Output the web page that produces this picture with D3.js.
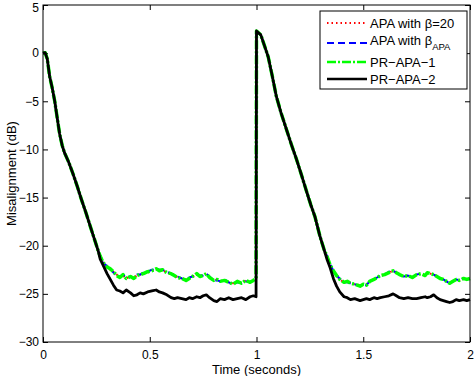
<!DOCTYPE html>
<html>
<head>
<meta charset="utf-8">
<script src="https://cdn.jsdelivr.net/npm/d3@7"></script>
<style>
  body { margin: 0; background: #fff; }
  svg { font-family: "Liberation Sans", Arial, sans-serif; }
</style>
</head>
<body>
<svg id="chart"></svg>
<script>
// time axis (seconds), shared by all curves
var timeSec = [
  0, 0.01, 0.02, 0.031, 0.043, 0.055, 0.067, 0.078, 0.09, 0.1, 0.12, 0.14, 0.16, 0.18, 0.2, 0.226, 0.245, 0.258,
  0.268, 0.283, 0.30, 0.315, 0.33, 0.345, 0.36, 0.375, 0.39, 0.41, 0.425, 0.44, 0.455, 0.47, 0.49, 0.51, 0.53, 0.545,
  0.56, 0.58, 0.6, 0.615, 0.63, 0.65, 0.67, 0.685, 0.7, 0.72, 0.735, 0.75, 0.765, 0.78, 0.8, 0.815, 0.83, 0.85,
  0.87, 0.89, 0.91, 0.93, 0.95, 0.97, 0.985, 0.998,
  1.0, 1.02, 1.04, 1.055, 1.075, 1.093, 1.115, 1.14, 1.165, 1.187, 1.21, 1.235, 1.255, 1.274, 1.297, 1.315,
  1.33, 1.345, 1.36, 1.375, 1.39, 1.41, 1.425, 1.44, 1.46, 1.485, 1.5, 1.515, 1.53, 1.55, 1.565, 1.58, 1.6, 1.62,
  1.64, 1.655, 1.67, 1.69, 1.71, 1.73, 1.75, 1.77, 1.79, 1.8, 1.815, 1.83, 1.845, 1.86, 1.875, 1.89, 1.905, 1.92,
  1.935, 1.95, 1.97, 1.985, 2.0
];

// misalignment in dB
var apa20 = [
  0, 0.05, -0.6, -2.4, -3.6, -5.0, -6.8, -8.4, -9.6, -10.3, -11.3, -12.5, -13.8, -15.2, -16.5, -18.3, -19.6, -20.5,
  -21.1, -21.7, -22.2, -22.5, -22.7, -23.0, -23.3, -23.1, -23.4, -23.2, -23.3, -23.1, -23.0, -22.9, -22.8, -22.6, -22.4, -22.6,
  -22.5, -22.8, -22.9, -23.0, -23.3, -23.4, -23.5, -23.4, -23.2, -23.0, -23.2, -23.1, -22.9, -23.3, -23.6, -23.5, -23.7, -23.6,
  -23.8, -23.9, -23.7, -23.9, -23.6, -23.8, -23.6, -23.4,
  2.3, 1.9, 0.6, -0.4, -2.5, -4.5, -6.2, -7.9, -9.6, -11.0, -12.6, -14.4, -15.8, -17.0, -19.0, -20.3,
  -21.1, -22.0, -22.6, -23.1, -23.5, -23.8, -23.7, -23.9, -24.0, -24.1, -24.0, -24.0, -23.7, -23.5, -23.3, -23.1, -23.0, -22.8,
  -22.6, -22.8, -23.0, -23.2, -23.1, -23.3, -23.0, -22.9, -23.1, -22.8, -22.9, -23.0, -23.2, -23.4, -23.5, -23.7, -23.8, -23.7,
  -23.5, -23.6, -23.4, -23.5, -23.4
];
var apaBeta = [
  0, 0.05, -0.6, -2.4, -3.6, -5.0, -6.8, -8.4, -9.6, -10.3, -11.3, -12.5, -13.8, -15.2, -16.5, -18.3, -19.6, -20.5,
  -21.0, -21.8, -22.1, -22.4, -22.8, -23.1, -23.2, -23.0, -23.3, -23.2, -23.4, -23.0, -23.0, -22.8, -22.7, -22.5, -22.4, -22.5,
  -22.5, -22.7, -22.9, -23.1, -23.2, -23.4, -23.6, -23.3, -23.2, -22.9, -23.1, -23.1, -22.9, -23.2, -23.6, -23.6, -23.7, -23.5,
  -23.8, -24.0, -23.8, -23.9, -23.7, -23.8, -23.5, -23.4,
  2.3, 1.9, 0.6, -0.4, -2.5, -4.5, -6.2, -7.9, -9.6, -11.0, -12.6, -14.4, -15.8, -17.0, -19.0, -20.3,
  -21.0, -21.9, -22.6, -23.1, -23.4, -23.8, -23.8, -23.9, -24.0, -24.2, -24.1, -24.1, -23.7, -23.5, -23.3, -23.1, -23.0, -22.7,
  -22.6, -22.8, -23.0, -23.2, -23.1, -23.3, -23.0, -22.9, -23.1, -22.8, -22.9, -23.0, -23.2, -23.4, -23.5, -23.7, -23.9, -23.7,
  -23.5, -23.6, -23.4, -23.5, -23.4
];
var prApa1 = [
  0, 0.05, -0.6, -2.4, -3.6, -5.0, -6.8, -8.4, -9.6, -10.3, -11.3, -12.5, -13.8, -15.2, -16.5, -18.3, -19.6, -20.5,
  -21.1, -21.8, -22.2, -22.4, -22.7, -23.1, -23.3, -23.0, -23.4, -23.2, -23.4, -23.1, -23.0, -22.9, -22.7, -22.6, -22.4, -22.6,
  -22.5, -22.8, -22.9, -23.1, -23.3, -23.4, -23.6, -23.4, -23.2, -22.9, -23.2, -23.1, -22.9, -23.3, -23.6, -23.5, -23.7, -23.6,
  -23.8, -24.0, -23.7, -23.9, -23.6, -23.8, -23.6, -23.4,
  2.3, 1.9, 0.6, -0.4, -2.5, -4.5, -6.2, -7.9, -9.6, -11.0, -12.6, -14.4, -15.8, -17.0, -19.0, -20.3,
  -21.1, -22.0, -22.6, -23.1, -23.5, -23.8, -23.7, -23.9, -24.0, -24.2, -24.0, -24.1, -23.7, -23.5, -23.3, -23.1, -23.0, -22.8,
  -22.6, -22.8, -23.0, -23.2, -23.1, -23.3, -23.0, -22.9, -23.1, -22.8, -22.9, -23.0, -23.2, -23.4, -23.5, -23.7, -23.9, -23.7,
  -23.5, -23.6, -23.4, -23.5, -23.4
];
var prApa2 = [
  0, 0.05, -0.6, -2.4, -3.6, -5.0, -6.8, -8.4, -9.6, -10.3, -11.3, -12.5, -13.8, -15.2, -16.5, -18.3, -19.6, -20.5,
  -21.4, -22.1, -22.9, -23.5, -24.1, -24.6, -24.7, -24.9, -24.6, -24.9, -25.2, -25.1, -24.9, -25.0, -24.8, -24.7, -24.6, -24.8,
  -24.9, -25.1, -25.4, -25.5, -25.4, -25.5, -25.6, -25.4, -25.5, -25.3, -25.4, -25.2, -25.1, -25.4, -25.7, -25.8, -25.5, -25.6,
  -25.4, -25.6, -25.5, -25.4, -25.6, -25.3, -25.2, -25.3,
  2.3, 1.9, 0.6, -0.4, -2.5, -4.5, -6.2, -7.9, -9.6, -11.0, -12.6, -14.4, -15.8, -17.0, -19.0, -20.3,
  -21.4, -22.3, -23.4, -24.2, -24.8, -25.3, -25.4, -25.6, -25.5, -25.7, -25.6, -25.5, -25.6, -25.4, -25.5, -25.4, -25.3, -25.2,
  -25.0, -25.2, -25.4, -25.5, -25.4, -25.5, -25.5, -25.4, -25.3, -25.4, -25.3, -25.1, -25.4, -25.6, -25.7, -25.8, -25.9, -25.8,
  -25.6, -25.7, -25.6, -25.7, -25.6
];

var xTicks = [0, 0.5, 1, 1.5, 2];
var yTicks = [5, 0, -5, -10, -15, -20, -25, -30];

var margin = { top: 5, right: 4, bottom: 34, left: 43 };
var width = 474 - margin.left - margin.right;
var height = 376 - margin.top - margin.bottom;

var svg = d3.select('#chart')
    .attr('width', 474)
    .attr('height', 376);

var g = svg.append('g')
    .attr('transform', 'translate(' + margin.left + ',' + margin.top + ')');

var xScale = d3.scaleLinear().domain([0, 2]).range([0, width]);
var yScale = d3.scaleLinear().domain([-30, 5]).range([height, 0]);

var fmt = function(d) { return String(d).replace('-', '\u2212'); };

// axes, matlab style: ticks pointing in, on all four sides
g.append('g')
    .attr('transform', 'translate(0,' + height + ')')
    .call(d3.axisBottom(xScale).tickValues(xTicks).tickSize(-5).tickPadding(8).tickFormat(fmt));
g.append('g')
    .call(d3.axisTop(xScale).tickValues(xTicks).tickSize(-5).tickFormat(''));
g.append('g')
    .attr('class', 'y-axis')
    .call(d3.axisLeft(yScale).tickValues(yTicks).tickSize(-5).tickPadding(4).tickFormat(fmt));
g.append('g')
    .attr('transform', 'translate(' + width + ',0)')
    .call(d3.axisRight(yScale).tickValues(yTicks).tickSize(-5).tickFormat(''));

g.selectAll('.domain').remove();
g.selectAll('.tick line').attr('stroke', '#000').attr('stroke-width', 1);
g.selectAll('.tick text').style('font-size', '12px').attr('fill', '#000');
// top label sits right at the edge, push it down a touch
g.select('.y-axis').selectAll('.tick text').filter(d => d === 5).attr('dy', '0.5em');

var series = [
  { name: 'apa20', values: apa20, color: '#ff0000', width: 2, dash: '1.5,3' },
  { name: 'apaBeta', values: apaBeta, color: '#0000ff', width: 2, dash: '7,4' },
  { name: 'prApa1', values: prApa1, color: '#00ff00', width: 3.5, dash: '9,2,2,2' },
  { name: 'prApa2', values: prApa2, color: '#000000', width: 2.8, dash: null }
];

var line = d3.line()
    .x(d => xScale(d[0]))
    .y(d => yScale(d[1]));

series.forEach(function(s) {
  g.append('path')
      .datum(d3.zip(timeSec, s.values))
      .attr('fill', 'none')
      .attr('stroke', s.color)
      .attr('stroke-width', s.width)
      .attr('stroke-dasharray', s.dash)
      .attr('stroke-linejoin', 'round')
      .attr('d', line);
});

// frame
g.append('rect')
    .attr('width', width)
    .attr('height', height)
    .attr('fill', 'none')
    .attr('stroke', '#000')
    .attr('stroke-width', 1);

// axis titles
svg.append('text')
    .attr('x', margin.left + width / 2)
    .attr('y', 374)
    .attr('text-anchor', 'middle')
    .style('font-size', '13px')
    .text('Time (seconds)');

svg.append('text')
    .attr('transform', 'translate(16,' + (margin.top + height / 2) + ') rotate(-90)')
    .attr('text-anchor', 'middle')
    .style('font-size', '13px')
    .text('Misalignment (dB)');

// legend
var legend = svg.append('g').attr('transform', 'translate(320,11)');
legend.append('rect')
    .attr('width', 147)
    .attr('height', 78)
    .attr('fill', '#fff')
    .attr('stroke', '#000')
    .attr('stroke-width', 1);

var rowY = [12, 32, 51, 68];
series.forEach(function(s, i) {
  legend.append('line')
      .attr('x1', 7).attr('x2', 47)
      .attr('y1', rowY[i]).attr('y2', rowY[i])
      .attr('stroke', s.color)
      .attr('stroke-width', Math.min(s.width, 2.5))
      .attr('stroke-dasharray', s.dash);
});

var lt = legend.append('text').style('font-size', '13px');
lt.append('tspan').attr('x', 50).attr('y', rowY[0] + 4.5).text('APA with \u03b2=20');

var lt2 = legend.append('text').style('font-size', '13px');
lt2.append('tspan').attr('x', 50).attr('y', rowY[1] + 2).text('APA with \u03b2');
lt2.append('tspan').attr('dy', 5).style('font-size', '9.5px').text('APA');

legend.append('text').style('font-size', '13px')
    .attr('x', 50).attr('y', rowY[2] + 4.5).text('PR\u2212APA\u22121');
legend.append('text').style('font-size', '13px')
    .attr('x', 50).attr('y', rowY[3] + 4.5).text('PR\u2212APA\u22122');
</script>
</body>
</html>
